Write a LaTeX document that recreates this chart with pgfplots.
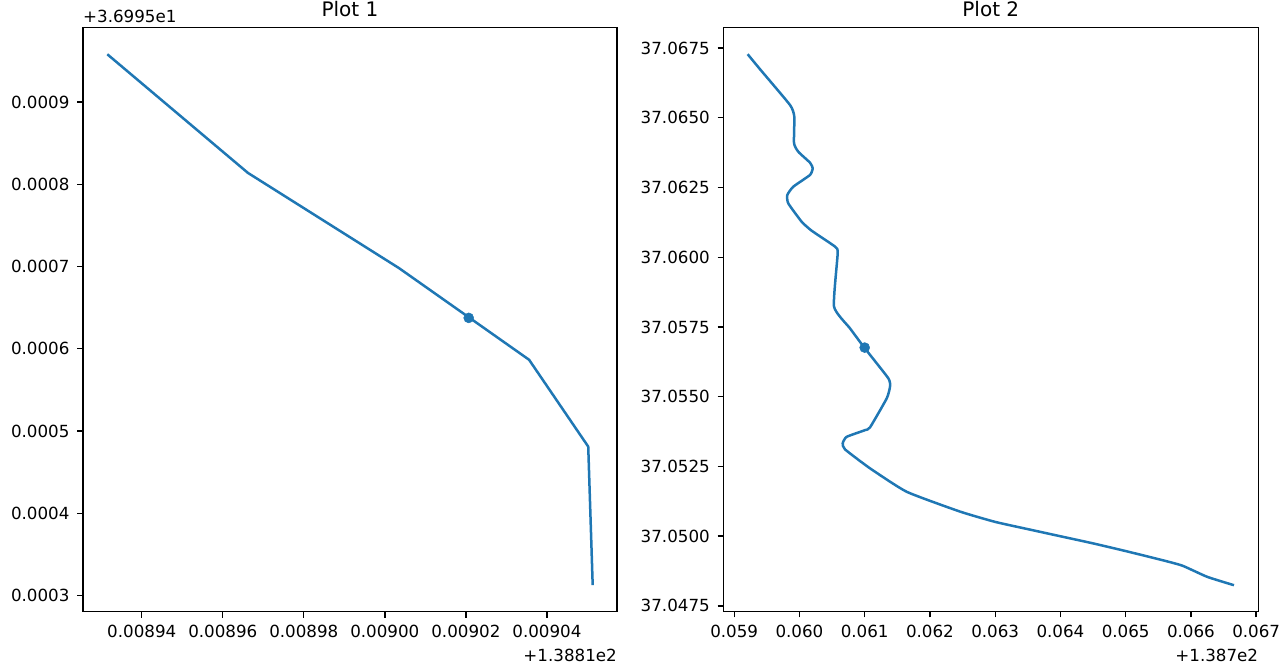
\documentclass[border=0pt]{standalone}
\usepackage{pgfplots}
\pgfplotsset{compat=1.18}
\usepackage{fontspec}
\setmainfont{DejaVu Sans}
\definecolor{mplblue}{HTML}{1F77B4}
\begin{document}
\begin{tikzpicture}[x=1pt,y=1pt]
\path[use as bounding box] (0,0) rectangle (1280,670);
\pgfplotsset{
  every axis/.append style={
    scale only axis, height=584pt,
    axis line style={line width=1.33pt},
    every tick/.style={line width=1.33pt, black},
    major tick length=5.8pt,
    tick align=outside, tick pos=left,
    scaled x ticks=false, scaled y ticks=false,
    /pgf/number format/assume math mode=true,
    ticklabel style={font=\fontsize{16.7}{20}\selectfont},
    xticklabel style={inner sep=0pt, anchor=north, yshift=-7.5pt},
    yticklabel style={inner sep=0pt, anchor=east, xshift=-7.5pt},
    every axis title/.style={font=\fontsize{20}{24}\selectfont, at={(0.5,1)}, anchor=base, yshift=11pt, inner sep=0pt},
  }
}
% ---------------- Plot 1 ----------------
\begin{axis}[
  at={(83pt,58.3pt)}, anchor=south west, width=534pt,
  title={Plot 1},
  xmin=0.0089255, xmax=0.0090573,
  ymin=0.0002803, ymax=0.0009903,
  xtick={0.00894,0.00896,0.00898,0.00900,0.00902,0.00904},
  ytick={0.0003,0.0004,0.0005,0.0006,0.0007,0.0008,0.0009},
  xticklabel style={/pgf/number format/.cd, fixed, fixed zerofill, precision=5},
  yticklabel style={/pgf/number format/.cd, fixed, fixed zerofill, precision=4},
]
\addplot[mplblue, line width=2.5pt, line join=round] coordinates {
  (0.0089315, 0.000958)
  (0.0089662, 0.0008138)
  (0.0090035, 0.000698)
  (0.0090356, 0.0005866)
  (0.0090502, 0.000481)
  (0.0090513, 0.0003126)
};
\addplot[only marks, mark=*, mark size=5pt, mplblue, mark options={fill=mplblue, draw=mplblue, line width=0.5pt}] coordinates {
  (0.0090207, 0.0006375)
};
\end{axis}
% ---------------- Plot 2 ----------------
\begin{axis}[
  at={(723.3pt,58.3pt)}, anchor=south west, width=535pt,
  title={Plot 2},
  xmin=0.058833, xmax=0.067033,
  ymin=37.04729, ymax=37.06823,
  xtick={0.059,0.060,0.061,0.062,0.063,0.064,0.065,0.066,0.067},
  ytick={37.0475,37.05,37.0525,37.055,37.0575,37.06,37.0625,37.065,37.0675},
  xticklabel style={/pgf/number format/.cd, fixed, fixed zerofill, precision=3},
  yticklabel style={/pgf/number format/.cd, fixed, fixed zerofill, precision=4},
]
\addplot[mplblue, line width=2.5pt, line join=round, smooth, tension=0.3] coordinates {
  (0.059206, 37.06728)
  (0.059396, 37.06674)
  (0.059855, 37.06546)
  (0.059921, 37.06504)
  (0.059917, 37.06409)
  (0.059983, 37.06378)
  (0.060162, 37.06339)
  (0.060203, 37.06319)
  (0.060162, 37.06295)
  (0.059906, 37.06253)
  (0.059814, 37.06223)
  (0.059829, 37.06193)
  (0.060035, 37.06127)
  (0.060188, 37.06095)
  (0.060545, 37.06038)
  (0.060586, 37.06014)
  (0.060530, 37.05823)
  (0.060775, 37.05745)
  (0.060994, 37.05676)
  (0.061362, 37.05566)
  (0.061388, 37.05536)
  (0.061338, 37.05494)
  (0.061082, 37.05390)
  (0.061005, 37.05380)
  (0.060724, 37.05356)
  (0.060663, 37.05333)
  (0.060698, 37.05311)
  (0.061082, 37.05243)
  (0.061644, 37.05159)
  (0.062461, 37.05088)
  (0.063000, 37.05051)
  (0.063560, 37.05022)
  (0.063990, 37.05000)
  (0.064500, 37.04974)
  (0.064990, 37.04947)
  (0.065560, 37.04914)
  (0.065870, 37.04894)
  (0.066250, 37.04854)
  (0.066660, 37.04824)
};
\addplot[only marks, mark=*, mark size=5pt, mplblue, mark options={fill=mplblue, draw=mplblue, line width=0.5pt}] coordinates {
  (0.061, 37.05676)
};
\end{axis}
% offset texts
\node[anchor=base west, inner sep=0pt, font=\fontsize{16.7}{20}\selectfont] at (83,647.3) {+3.6995e1};
\node[anchor=base east, inner sep=0pt, font=\fontsize{16.7}{20}\selectfont] at (617,8.3) {+1.3881e2};
\node[anchor=base east, inner sep=0pt, font=\fontsize{16.7}{20}\selectfont] at (1258.3,8.3) {+1.387e2};
\end{tikzpicture}
\end{document}
